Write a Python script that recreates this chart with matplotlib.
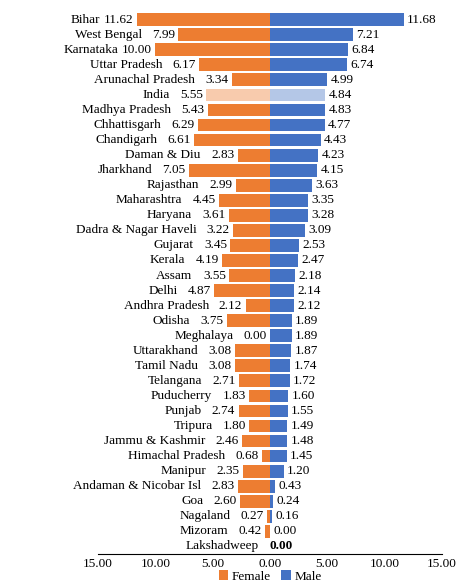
import matplotlib.pyplot as plt
import numpy as np

states = ["Bihar", "West Bengal", "Karnataka", "Uttar Pradesh", "Arunachal Pradesh", "India",
          "Madhya Pradesh", "Chhattisgarh", "Chandigarh", "Daman & Diu", "Jharkhand", "Rajasthan",
          "Maharashtra", "Haryana", "Dadra & Nagar Haveli", "Gujarat", "Kerala", "Assam", "Delhi",
          "Andhra Pradesh", "Odisha", "Meghalaya", "Uttarakhand", "Tamil Nadu", "Telangana",
          "Puducherry", "Punjab", "Tripura", "Jammu & Kashmir", "Himachal Pradesh", "Manipur",
          "Andaman & Nicobar Isl", "Goa", "Nagaland", "Mizoram", "Lakshadweep"]
female = [11.62, 7.99, 10.00, 6.17, 3.34, 5.55, 5.43, 6.29, 6.61, 2.83, 7.05, 2.99, 4.45, 3.61,
          3.22, 3.45, 4.19, 3.55, 4.87, 2.12, 3.75, 0.00, 3.08, 3.08, 2.71, 1.83, 2.74, 1.80,
          2.46, 0.68, 2.35, 2.83, 2.60, 0.27, 0.42, 0.00]
male = [11.68, 7.21, 6.84, 6.74, 4.99, 4.84, 4.83, 4.77, 4.43, 4.23, 4.15, 3.63, 3.35, 3.28,
        3.09, 2.53, 2.47, 2.18, 2.14, 2.12, 1.89, 1.89, 1.87, 1.74, 1.72, 1.60, 1.55, 1.49,
        1.48, 1.45, 1.20, 0.43, 0.24, 0.16, 0.00, 0.00]

plt.rcParams['font.family'] = ['Liberation Serif', 'DejaVu Serif']
fs = 9.5

fig = plt.figure(figsize=(4.74, 5.8), dpi=100)
ax = fig.add_axes([0.207, 0.045, 0.725, 0.934])

y = np.arange(len(states))
fcol = ['#F8CBAD' if s == "India" else '#ED7D31' for s in states]
mcol = ['#B4C7E7' if s == "India" else '#4472C4' for s in states]
ax.barh(y, [-f for f in female], height=0.85, color=fcol, label="Female")
ax.barh(y, male, height=0.85, color=mcol, label="Male")

# category names sit just left of the female value label
for i, s in enumerate(states):
    f, m = female[i], male[i]
    if s == "Lakshadweep":
        ax.text(-1.0, i, s, ha='right', va='center', fontsize=fs)
        ax.text(0.0, i, f"{m:.2f}", ha='left', va='center', fontsize=fs, fontweight='bold')
        continue
    ax.text(-f - 0.3, i, f"{f:.2f}", ha='right', va='center', fontsize=fs)
    ax.text(-f - 3.2, i, s, ha='right', va='center', fontsize=fs)
    ax.text(m + 0.3, i, f"{m:.2f}", ha='left', va='center', fontsize=fs)

ax.set_xlim(-15, 15)
ax.set_ylim(len(states) - 0.5, -0.5)
ax.set_xticks([-15, -10, -5, 0, 5, 10, 15])
ax.set_xticklabels([f"{abs(v):.2f}" for v in [-15, -10, -5, 0, 5, 10, 15]], fontsize=fs)
ax.set_yticks([])
for sp in ['top', 'right', 'left']:
    ax.spines[sp].set_visible(False)
ax.spines['bottom'].set_color('#000000')
ax.tick_params(axis='x', length=0, pad=3)

fig.legend(loc='lower center', bbox_to_anchor=(0.57, -0.025), ncol=2, frameon=False,
           fontsize=fs, handlelength=0.7, handleheight=0.7, columnspacing=0.8, handletextpad=0.3)

fig.savefig("out.png", dpi=100, facecolor='white')
